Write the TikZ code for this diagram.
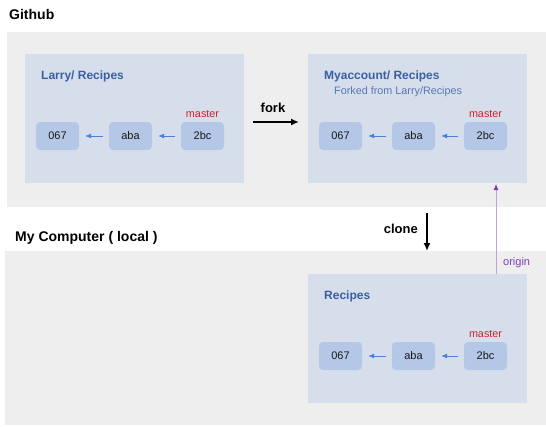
\documentclass[tikz,border=0pt]{standalone}
\usepackage{fontspec}
\setmainfont{Liberation Sans}
\usetikzlibrary{positioning,arrows.meta}

\definecolor{bandgray}{HTML}{EEEEEE}
\definecolor{repoblue}{HTML}{D6DEEB}
\definecolor{commitblue}{HTML}{B4C7E7}
\definecolor{titleblue}{HTML}{3A5FA2}
\definecolor{masterred}{HTML}{D0202A}
\definecolor{linkblue}{HTML}{4A7FD6}
\definecolor{originpurple}{HTML}{7E3DB8}
\definecolor{originline}{HTML}{BEA2DA}

\tikzset{
	band/.style={fill=bandgray, draw=none},
	repobox/.style={fill=repoblue, draw=none, minimum width=219pt, minimum height=129pt, anchor=north west, inner sep=0pt},
	commit/.style={fill=commitblue, draw=none, rounded corners=4pt, minimum width=43pt, minimum height=28pt, inner sep=0pt, text=black!90, font=\fontsize{11}{13}\selectfont},
	parentlink/.style={linkblue, line width=0.8pt, -{Latex[length=6pt,width=5pt]}, shorten >=6pt, shorten <=6pt},
	repotitle/.style={anchor=west, inner sep=0pt, text=titleblue, font=\fontsize{12}{14}\selectfont\bfseries},
	branchlbl/.style={inner sep=0pt, text=masterred, font=\fontsize{10.8}{13}\selectfont},
	areatitle/.style={anchor=west, inner sep=0pt, font=\fontsize{14}{16}\selectfont\bfseries},
	action/.style={black, line width=2pt, -{Latex[length=8pt,width=7pt]}},
	actionlbl/.style={inner sep=0pt, font=\fontsize{13}{15}\selectfont\bfseries}
}

\begin{document}
\begin{tikzpicture}[x=1pt, y=-1pt]
	\useasboundingbox (0,0) rectangle (546,426);

	% areas
	\fill[band] (7,32) rectangle (546,207);
	\fill[band] (5,251) rectangle (546,425);
	\node[areatitle] (github) at (9,14) {Github};
	\node[areatitle] (local) at (15,238) {My Computer ( local )};

	% upstream repository
	\begin{scope}[shift={(25,54)}]
		\node[repobox] (Lrepo) at (0,0) {};
		\node[repotitle] (Ltitle) at (16,22) {Larry/ Recipes};
		\node[commit] (L067) at (32.5,82) {067};
		\node[commit] (Laba) at (105.5,82) {aba};
		\node[commit] (L2bc) at (177.5,82) {2bc};
		\node[branchlbl, above=4pt of L2bc] (Lmaster) {master};
		\draw[parentlink] (Laba) -- (L067);
		\draw[parentlink] (L2bc) -- (Laba);
	\end{scope}

	% fork on github
	\begin{scope}[shift={(308,54)}]
		\node[repobox] (Mrepo) at (0,0) {};
		\node[repotitle] (Mtitle) at (16,22) {Myaccount/ Recipes};
		\node[anchor=west, inner sep=0pt, text=titleblue!85, font=\fontsize{10.8}{13}\selectfont] (Mnote) at (26,38) {Forked from Larry/Recipes};
		\node[commit] (M067) at (32.5,82) {067};
		\node[commit] (Maba) at (105.5,82) {aba};
		\node[commit] (M2bc) at (177.5,82) {2bc};
		\node[branchlbl, above=4pt of M2bc] (Mmaster) {master};
		\draw[parentlink] (Maba) -- (M067);
		\draw[parentlink] (M2bc) -- (Maba);
	\end{scope}

	% local clone
	\begin{scope}[shift={(308,274)}]
		\node[repobox] (Crepo) at (0,0) {};
		\node[repotitle] (Ctitle) at (16,22) {Recipes};
		\node[commit] (C067) at (32.5,82) {067};
		\node[commit] (Caba) at (105.5,82) {aba};
		\node[commit] (C2bc) at (177.5,82) {2bc};
		\node[branchlbl, above=4pt of C2bc] (Cmaster) {master};
		\draw[parentlink] (Caba) -- (C067);
		\draw[parentlink] (C2bc) -- (Caba);
	\end{scope}

	% fork, clone, origin
	\coordinate (forkA) at (253,122);
	\coordinate (forkB) at (299,122);
	\draw[action] (forkA) -- (forkB);
	\node[actionlbl] (forklbl) at (273,108) {fork};

	\coordinate (cloneA) at (427,213);
	\coordinate (cloneB) at (427,251);
	\draw[action] (cloneA) -- (cloneB);
	\node[actionlbl, anchor=east] (clonelbl) at (418,229) {clone};

	\coordinate (originA) at (496,274);
	\coordinate (originB) at (496,184);
	\draw[originline, line width=0.8pt, -{Latex[length=6pt,width=5pt,color=originpurple]}] (originA) -- (originB);
	\node[anchor=west, inner sep=0pt, text=originpurple, font=\fontsize{11}{13}\selectfont] (originlbl) at (503,263) {origin};
\end{tikzpicture}
\end{document}
